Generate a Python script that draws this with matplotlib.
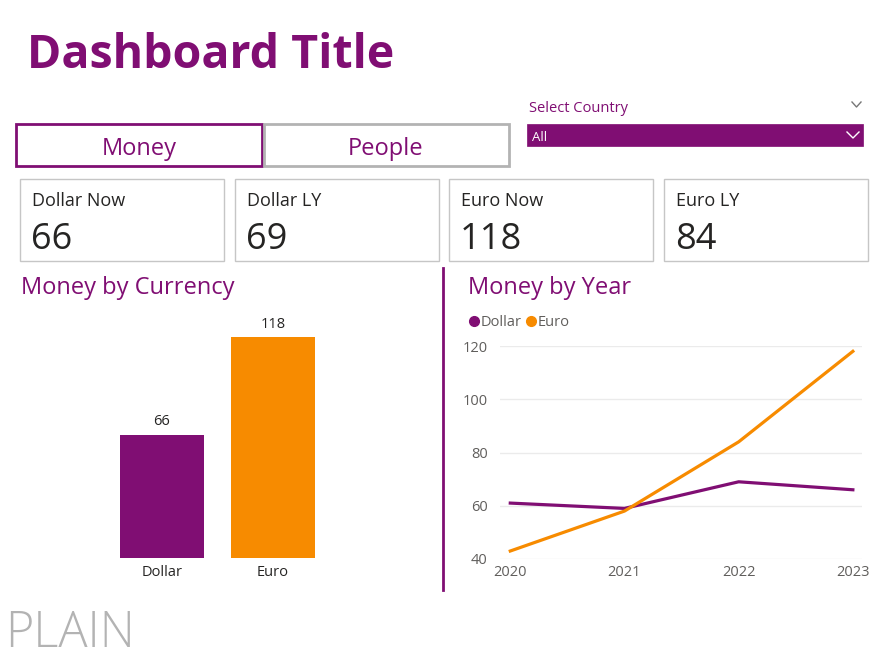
import matplotlib
matplotlib.use("Agg")
import matplotlib.pyplot as plt
from matplotlib.patches import Rectangle

W, H = 890, 667
PURPLE = "#800e73"
ORANGE = "#f78b00"
GREY = "#b3b3b3"

plt.rcParams['font.family'] = ['Open Sans', 'DejaVu Sans']

# data
kpi_labels = ["Dollar Now", "Dollar LY", "Euro Now", "Euro LY"]
kpi_values = [66, 69, 118, 84]
currencies = ["Dollar", "Euro"]
currency_totals = [66, 118]
years = [2020, 2021, 2022, 2023]
dollar_by_year = [61, 59, 69, 66]
euro_by_year = [43, 58, 84, 118]

fig = plt.figure(figsize=(W / 100, H / 100), dpi=100)
fig.patch.set_facecolor("white")


def fx(x):
    return x / W


def fy(y):
    return 1 - y / H


def box(x0, y0, x1, y1, **kw):
    fig.add_artist(Rectangle((fx(x0), fy(y1)), fx(x1) - fx(x0), fy(y0) - fy(y1),
                             transform=fig.transFigure, **kw))


def axes_px(x0, y0, x1, y1):
    return fig.add_axes([fx(x0), fy(y1), fx(x1) - fx(x0), fy(y0) - fy(y1)])


# title
fig.text(fx(27), fy(56), "Dashboard Title", fontsize=33.5, fontweight="bold",
         color=PURPLE, va="center", ha="left")

# buttons
box(16, 124, 262, 166, fill=False, edgecolor=PURPLE, linewidth=2)
box(264, 124, 509, 166, fill=False, edgecolor=GREY, linewidth=2)
fig.text(fx(139), fy(149), "Money", fontsize=17, color=PURPLE, ha="center", va="center")
fig.text(fx(386), fy(149), "People", fontsize=17, color=PURPLE, ha="center", va="center")

# slicer
fig.text(fx(529), fy(109), "Select Country", fontsize=10.5, color=PURPLE, ha="left", va="center")
fig.add_artist(plt.Line2D([fx(852), fx(856.5), fx(861)], [fy(102), fy(107), fy(102)],
                          transform=fig.transFigure, color="#777777", linewidth=1))
box(527, 124, 863, 146, facecolor=PURPLE, edgecolor=PURPLE, linewidth=0.5)
fig.text(fx(532), fy(137.5), "All", fontsize=9.5, color="white", ha="left", va="center")
fig.add_artist(plt.Line2D([fx(847), fx(853), fx(859)], [fy(132), fy(138), fy(132)],
                          transform=fig.transFigure, color="white", linewidth=1))

# kpi cards
card_x = [20, 235, 449, 664]
for x0, lab, val in zip(card_x, kpi_labels, kpi_values):
    box(x0, 179, x0 + 204, 261, fill=False, edgecolor="#c6c6c6", linewidth=1)
    fig.text(fx(x0 + 12), fy(201), lab, fontsize=13, color="#252423", ha="left", va="center")
    fig.text(fx(x0 + 11), fy(240), str(val), fontsize=26, color="#252423", ha="left", va="center")

# section headers
fig.text(fx(21), fy(288), "Money by Currency", fontsize=17, color=PURPLE, ha="left", va="center")
fig.text(fx(468), fy(288), "Money by Year", fontsize=17, color=PURPLE, ha="left", va="center")

# divider
fig.add_artist(plt.Line2D([fx(443), fx(443)], [fy(268), fy(590)],
                          transform=fig.transFigure, color=PURPLE, linewidth=2))

# bar chart
ax1 = axes_px(62, 315, 373, 558)
ax1.bar(range(len(currencies)), currency_totals, width=0.757, color=[PURPLE, ORANGE])
ax1.set_xlim(-0.9, 1.9)
ax1.set_ylim(0, 130)
for i, v in enumerate(currency_totals):
    ax1.text(i, v + 3, str(v), ha="center", va="bottom", fontsize=10.5, color="#252423")
ax1.set_xticks(range(len(currencies)))
ax1.set_xticklabels(currencies, fontsize=10.5, color="#252423")
ax1.tick_params(axis="x", length=0, pad=5)
ax1.set_yticks([])
for s in ax1.spines.values():
    s.set_visible(False)

# line chart
ax2 = axes_px(500, 346, 862, 559)
ax2.plot(years, dollar_by_year, color=PURPLE, linewidth=2.3, clip_on=False)
ax2.plot(years, euro_by_year, color=ORANGE, linewidth=2.3, clip_on=False)
ax2.set_xlim(2019.91, 2023.08)
ax2.set_ylim(40, 120)
ax2.set_xticks(years)
ax2.set_xticklabels([str(y) for y in years])
ax2.set_yticks([40, 60, 80, 100, 120])
ax2.grid(axis="y", color="#ebebeb", linewidth=1)
ax2.set_axisbelow(True)
ax2.tick_params(length=0, labelsize=10.5, labelcolor="#605e5c")
ax2.tick_params(axis="y", pad=9)
ax2.tick_params(axis="x", pad=4)
for s in ax2.spines.values():
    s.set_visible(False)

# legend: dots + labels
for xd, name, col in [(474, "Dollar", PURPLE), (531, "Euro", ORANGE)]:
    fig.add_artist(plt.Line2D([fx(xd)], [fy(321)], marker="o", markersize=7,
                              color=col, transform=fig.transFigure, linestyle=""))
    fig.text(fx(xd + 7), fy(322.5), name, fontsize=10.5, color="#605e5c", ha="left", va="center")

# watermark
fig.text(fx(5), fy(634), "PLAIN", fontsize=35, color=GREY, fontweight="light",
         ha="left", va="center")

fig.savefig("out.png", dpi=100, facecolor="white")
